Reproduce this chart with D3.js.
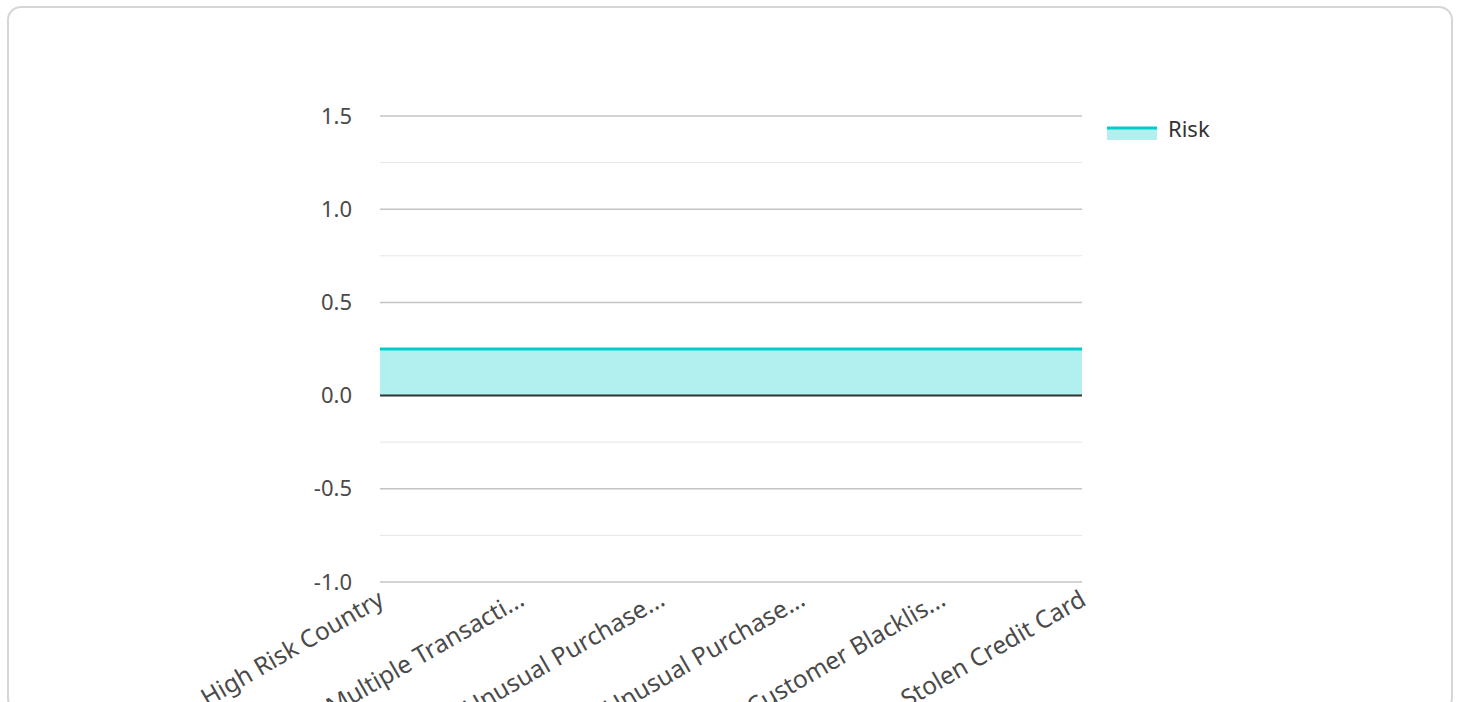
<!DOCTYPE html>
<html>
<head>
<meta charset="utf-8">
<script src="https://cdn.jsdelivr.net/npm/d3@7"></script>
<style>
  html, body { margin: 0; padding: 0; background: #fff; }
  .card {
    position: absolute; left: 7px; top: 6px; width: 1446px; height: 706px;
    border: 2px solid #d6d6d6; border-radius: 14px; box-sizing: border-box;
  }
  svg { position: absolute; left: 0; top: 0; font-family: "Noto Sans", "Open Sans", sans-serif; }
</style>
</head>
<body>
<div class="card"></div>
<svg id="chart" width="1458" height="702"></svg>
<script>
// chart data
const categories = ['High Risk Country', 'Multiple Transacti...', 'Unusual Purchase...', 'Unusual Purchase...', 'Customer Blacklis...', 'Stolen Credit Card'];
const riskValues = [0.25, 0.25, 0.25, 0.25, 0.25, 0.25];
const majorTicks = [-1.0, -0.5, 0.0, 0.5, 1.0, 1.5];
const minorTicks = [-0.75, -0.25, 0.25, 0.75, 1.25];
const seriesName = 'Risk';

const svg = d3.select('#chart');
const margin = { top: 116, left: 380 };
const width = 702;
const height = 466;
const g = svg.append('g').attr('transform', `translate(${margin.left},${margin.top})`);

const x = d3.scalePoint().domain(d3.range(categories.length)).range([0, width]);
const y = d3.scaleLinear().domain([-1, 1.5]).range([height, 0]);

// minor grid
g.selectAll('.minor').data(minorTicks).enter().append('line')
  .attr('x1', 0).attr('x2', width)
  .attr('y1', d => y(d)).attr('y2', d => y(d))
  .attr('stroke', '#e6e6e6').attr('stroke-width', 1);

// major grid
g.selectAll('.major').data(majorTicks.filter(d => d !== 0)).enter().append('line')
  .attr('x1', 0).attr('x2', width)
  .attr('y1', d => y(d)).attr('y2', d => y(d))
  .attr('stroke', '#c4c4c4').attr('stroke-width', 1.5);

// y axis labels
const yAxis = g.append('g')
  .call(d3.axisLeft(y).tickValues(majorTicks).tickFormat(d => d.toFixed(1)).tickSize(0).tickPadding(28));
yAxis.select('.domain').remove();
yAxis.selectAll('text')
  .style('font-size', '22px').attr('fill', '#4a4a4a')
  .style('font-family', '"Noto Sans", "Open Sans", sans-serif');

// area + line
const data = riskValues.map((v, i) => ({ i, v }));
const area = d3.area().x(d => x(d.i)).y0(y(0)).y1(d => y(d.v));
const line = d3.line().x(d => x(d.i)).y(d => y(d.v));

g.append('path').datum(data).attr('d', area).attr('fill', '#b2efef');
g.append('path').datum(data).attr('d', line)
  .attr('fill', 'none').attr('stroke', '#00cccc').attr('stroke-width', 3);

// zero line
g.append('line')
  .attr('x1', 0).attr('x2', width)
  .attr('y1', y(0)).attr('y2', y(0))
  .attr('stroke', '#333').attr('stroke-width', 2);

// x axis labels (cut at the bottom edge, as in the original)
const xAxis = g.append('g')
  .attr('transform', `translate(0,${height})`)
  .call(d3.axisBottom(x).tickFormat(i => categories[i]).tickSize(0).tickPadding(0));
xAxis.select('.domain').remove();
xAxis.selectAll('text')
  .style('font-size', '24.5px').attr('fill', '#4a4a4a')
  .style('font-family', '"Noto Sans", "Open Sans", sans-serif')
  .style('text-anchor', 'end')
  .attr('dy', '0.9em')
  .attr('transform', 'translate(-6,3) rotate(-30)');

// legend
const legend = svg.append('g').attr('transform', 'translate(1107,127)');
legend.append('rect').attr('x', 0).attr('y', 0).attr('width', 50).attr('height', 13).attr('fill', '#b2efef');
legend.append('line').attr('x1', 0).attr('x2', 50).attr('y1', 1).attr('y2', 1)
  .attr('stroke', '#00cccc').attr('stroke-width', 3);
legend.append('text').attr('x', 61).attr('y', 2).attr('dy', '0.35em')
  .style('font-size', '22px').attr('fill', '#333').text(seriesName);
</script>
</body>
</html>
